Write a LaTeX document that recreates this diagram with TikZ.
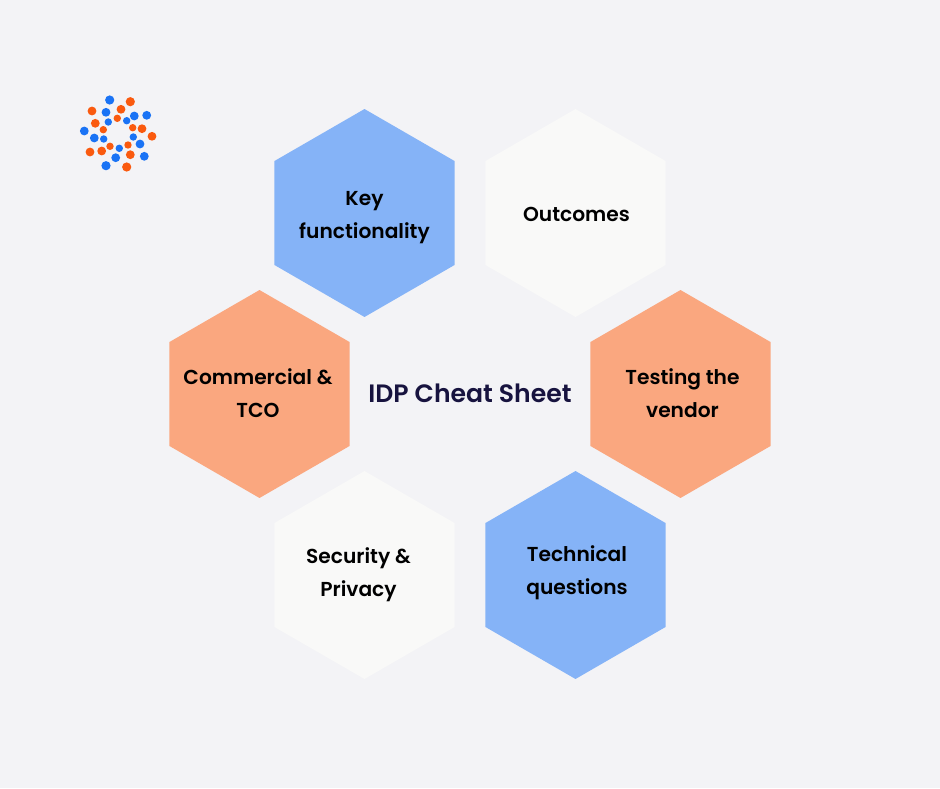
\documentclass[tikz,border=0pt]{standalone}
\usepackage{fontspec}
\setmainfont{Poppins Medium}
\newfontfamily\hexfont{Poppins SemiBold}
\usepackage{tikz}
\usetikzlibrary{shapes.geometric}
\definecolor{pagebg}{HTML}{F3F3F6}
\definecolor{hexblue}{HTML}{85B3F7}
\definecolor{hexwhite}{HTML}{F9F9F8}
\definecolor{hexorange}{HTML}{FAA77F}
\definecolor{dotblue}{HTML}{1A73F5}
\definecolor{dotorange}{HTML}{FA5A0F}
\definecolor{titleink}{HTML}{17133F}

\begin{document}
\begin{tikzpicture}[x=0.02cm,y=-0.02cm,
    hex/.style={regular polygon,regular polygon sides=6,shape border rotate=30,minimum size=4.16cm,inner sep=0pt},
    hexlabel/.style={align=center,font=\hexfont\fontsize{11.5}{18.8}\selectfont,text=black}]
      \fill[pagebg] (0,0) rectangle (940,788);
      \node[hex,fill=hexblue] (keyhex) at (364.5,213) {};
      \node[hex,fill=hexwhite] (outhex) at (575.5,213) {};
      \node[hex,fill=hexorange] (comhex) at (259.5,394) {};
      \node[hex,fill=hexorange] (testhex) at (680.5,394) {};
      \node[hex,fill=hexwhite] (sechex) at (364.5,575) {};
      \node[hex,fill=hexblue] (techhex) at (575.5,575) {};
      \node[hexlabel] (key) at (364.5,217.5) {Key\\functionality};
      \node[hexlabel] (out) at (576.5,214) {Outcomes};
      \node[hexlabel] (com) at (258,393.5) {Commercial \&\\TCO};
      \node[hexlabel] (test) at (682.5,393.5) {Testing the\\vendor};
      \node[hexlabel] (sec) at (358.5,574.5) {Security \&\\Privacy};
      \node[hexlabel] (tech) at (577,573) {Technical\\questions};
      \node[font=\hexfont\fontsize{14.3}{18}\selectfont,text=titleink] (title) at (470,393) {IDP Cheat Sheet};
      % logo dots
      \foreach \x/\y/\r in {109.7/100/4.6,106/112.3/4.4,108.3/122/3.7,84.3/131/4.4,94.3/138/4.4,
          103.7/139/3.7,119.3/148.3/3.7,115.7/157.7/4.4,106/165.7/4.6,144.3/156.3/4.4,140/144/4.4,
          133.3/137/3.7,146.7/115.3/4.4,134.3/116/4.4,126.7/120.7/3.7}
        \fill[dotblue] (\x,\y) circle[radius=\r];
      \foreach \x/\y/\r in {130.3/101.7/4.6,121/109.3/4.4,117.3/118.3/3.7,92/111/4.4,95.3/123.3/4.4,
          103.3/129.7/3.7,90/152/4.4,101.7/151/4.4,110/146.3/3.7,128/145/3.7,130.3/154.7/4.4,
          126.7/167/4.6,152/136.3/4.4,142/128.7/4.4,132.7/127.7/3.7}
        \fill[dotorange] (\x,\y) circle[radius=\r];
    \end{tikzpicture}
\end{document}
